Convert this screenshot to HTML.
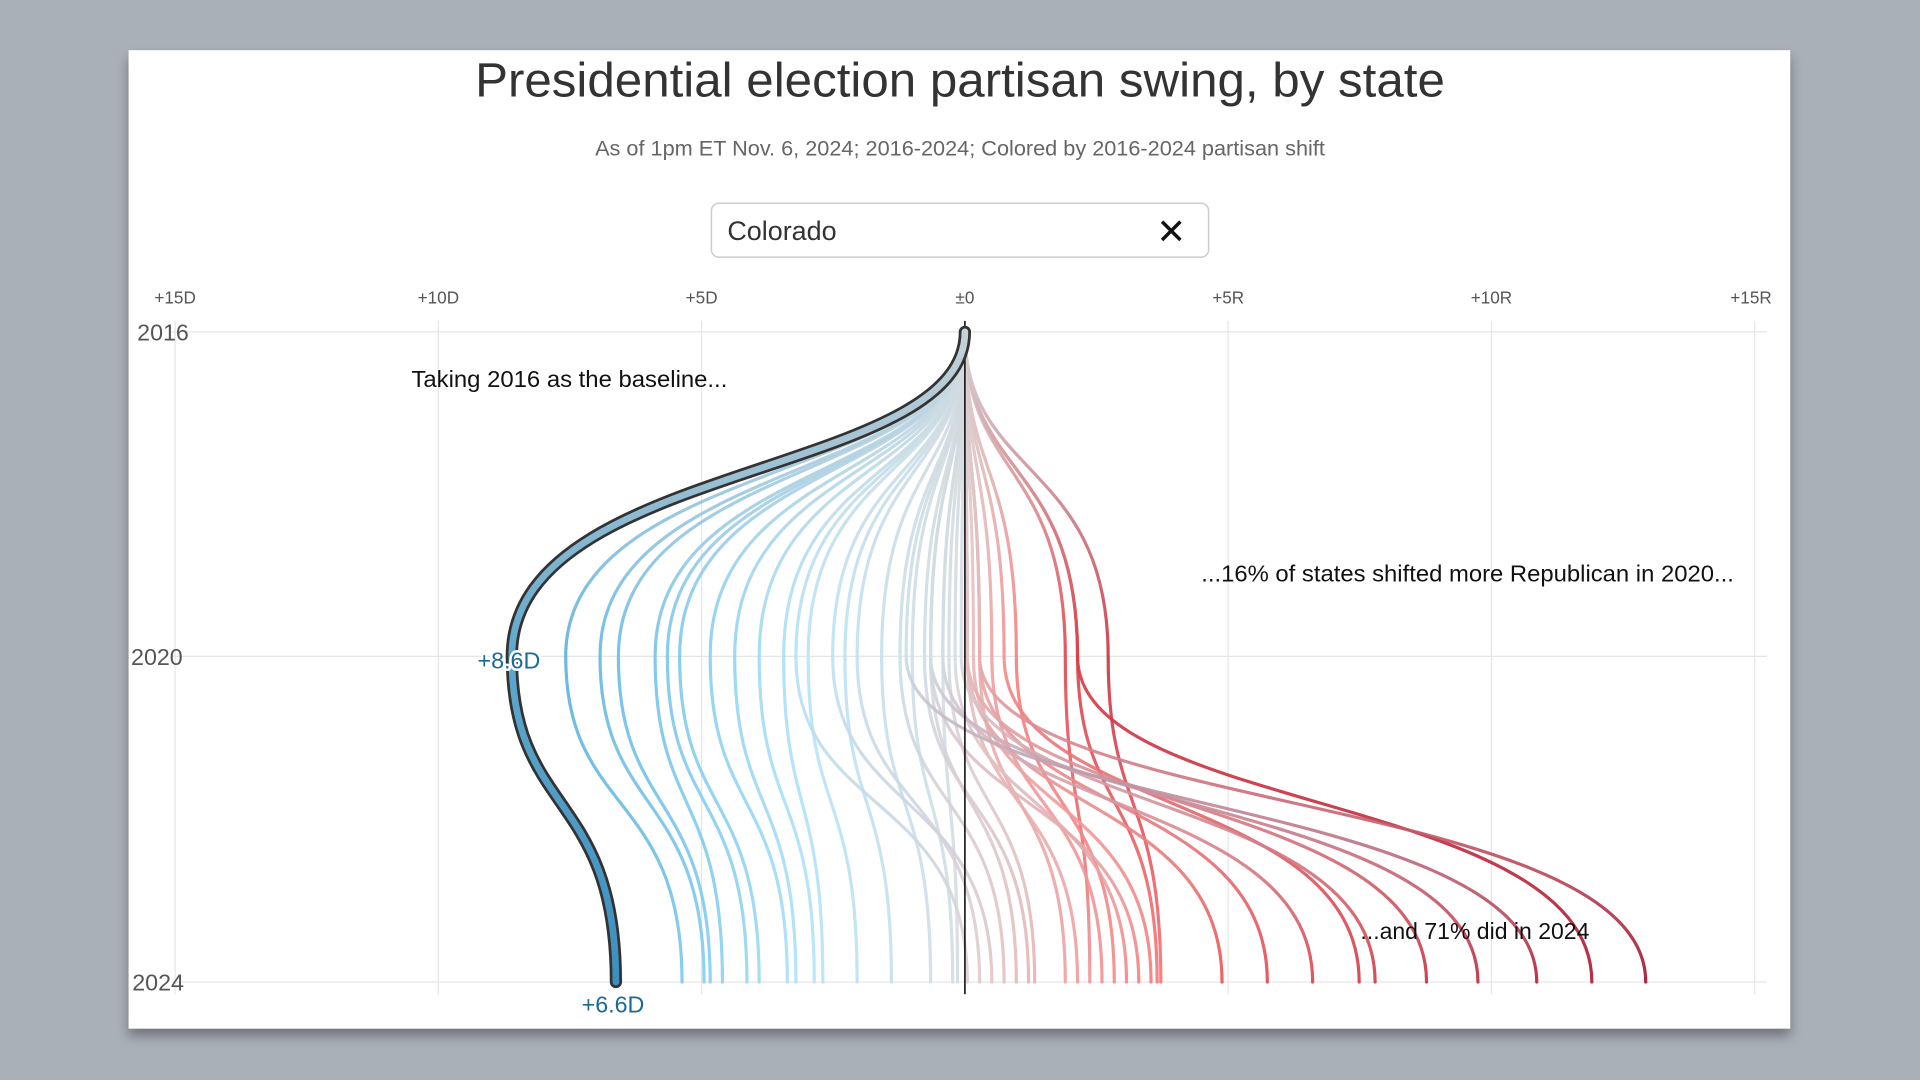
<!DOCTYPE html>
<html><head><meta charset="utf-8">
<style>
html,body{margin:0;padding:0;background:#a9b0b8;}
svg{display:block}
text{font-family:"Liberation Sans",sans-serif}
</style></head>
<body>
<svg id="s" width="1920" height="1080" viewBox="0 0 1568 882" xmlns="http://www.w3.org/2000/svg">
<defs>
<filter id="sh" x="-5%" y="-5%" width="110%" height="115%"><feDropShadow dx="0" dy="6" stdDeviation="5" flood-color="#000" flood-opacity="0.35"/></filter>
</defs>
<rect x="0" y="0" width="1568" height="882" fill="#a9b0b8"/>
<rect x="105" y="41" width="1357" height="799" fill="#fff" filter="url(#sh)"/>
<text x="784" y="79" text-anchor="middle" font-size="39" fill="#333" textLength="792" lengthAdjust="spacingAndGlyphs">Presidential election partisan swing, by state</text>
<text x="784" y="127" text-anchor="middle" font-size="17" fill="#666" textLength="596" lengthAdjust="spacingAndGlyphs">As of 1pm ET Nov. 6, 2024; 2016-2024; Colored by 2016-2024 partisan shift</text>
<rect x="581" y="166" width="406" height="44" rx="6" fill="#fff" stroke="#ccc" stroke-width="1.2"/>
<text x="594" y="196" font-size="22" fill="#333">Colorado</text>
<path d="M949,181 L964,196 M964,181 L949,196" stroke="#111" stroke-width="2.8"/>
<g id="grid" stroke="#e6e6e6" stroke-width="1"></g>
<g font-size="14" fill="#555" text-anchor="middle">
<text x="143" y="248">+15D</text><text x="358" y="248">+10D</text><text x="573" y="248">+5D</text>
<text x="788" y="248">±0</text><text x="1003" y="248">+5R</text><text x="1218" y="248">+10R</text><text x="1430" y="248">+15R</text>
</g>
<g font-size="19" fill="#555">
<text x="112" y="278">2016</text><text x="107" y="543">2020</text><text x="108" y="809">2024</text>
</g>
<g id="lines" fill="none" stroke-width="2.6" stroke-linecap="round"></g>
<line x1="788" y1="262" x2="788" y2="812" stroke="#111" stroke-width="1.3"/>
<g id="hl" fill="none" stroke-linecap="round"></g>
<g font-size="18.5" fill="#111">
<text x="336" y="316" textLength="258" lengthAdjust="spacingAndGlyphs">Taking 2016 as the baseline...</text>
<text x="981" y="475" textLength="435" lengthAdjust="spacingAndGlyphs">...16% of states shifted more Republican in 2020...</text>
<text x="1111" y="767" textLength="187" lengthAdjust="spacingAndGlyphs">...and 71% did in 2024</text>
</g>
<g font-size="19" fill="#1a6a96" stroke="#fff" stroke-width="4" paint-order="stroke" stroke-linejoin="round">
<text x="390" y="546">+8.6D</text>
<text x="475" y="827">+6.6D</text>
</g>
</svg>
<script>
var NS="http://www.w3.org/2000/svg",s=document.getElementById('s');
var g=document.getElementById('grid'),defs=s.querySelector('defs');
function el(t,a,p){var e=document.createElementNS(NS,t);for(var k in a)e.setAttribute(k,a[k]);(p||s).appendChild(e);return e;}
[143,358,573,1003,1218,1433].forEach(function(x){el('line',{x1:x,y1:262,x2:x,y2:812},g);});
[271,536,802].forEach(function(y){el('line',{x1:140,y1:y,x2:1443,y2:y},g);});
function lerp(a,b,t){return a.map(function(v,i){return Math.round(v+(b[i]-v)*t);});}
function col(x){var d=(x-788)/43;
 if(d<0){d=-d;if(d<3)return lerp([214,220,224],[180,228,250],d/3);
   if(d<5)return lerp([180,228,250],[130,205,240],(d-3)/2);
   return lerp([130,205,240],[70,160,210],Math.min(1,(d-5)/4));}
 if(d<4)return lerp([226,208,208],[250,110,110],d/4);
 return lerp([245,85,85],[160,15,45],Math.min(1,(d-4)/9));}
function rgb(c){return 'rgb('+c.join(',')+')';}
var data=[[462,557],[490,575],[505,580],[535,590],[545,610],[555,620],[580,643],[600,650],[620,665],[640,672],[660,700],[690,728],[720,760],[745,778],[770,782],[650,790],[700,800],[680,810],[735,820],[760,830],[755,840],[775,845],[800,870],[790,880],[870,890],[810,900],[830,910],[780,920],[760,930],[795,940],[880,945],[905,948],[790,998],[800,1035],[770,1072],[820,1110],[785,1123],[790,1165],[760,1207],[740,1255],[880,1300],[800,1344]];
function path(a,b){var x0=788,y0=271,y1=536,y2=802;
 return 'M'+x0+','+y0+' C'+x0+','+(y0+120)+' '+a+','+(y0+105)+' '+a+','+y1+
 ' C'+a+','+(y1+130)+' '+b+','+(y1+110)+' '+b+','+y2;}
data.forEach(function(d,i){
 var gr=el('linearGradient',{id:'g'+i,gradientUnits:'userSpaceOnUse',x1:0,y1:271,x2:0,y2:802},defs);
 el('stop',{offset:0,'stop-color':'#d4d9dc'},gr);
 el('stop',{offset:0.5,'stop-color':rgb(col(d[0]<788?d[0]:(d[1]>788?788+(d[0]-788)*3+20:d[0])))},gr);
 el('stop',{offset:1,'stop-color':rgb(col(d[1]))},gr);
 el('path',{d:path(d[0],d[1]),stroke:'url(#g'+i+')','stroke-opacity':0.9},document.getElementById('lines'));
});
var h=document.getElementById('hl');
var gr=el('linearGradient',{id:'gc',gradientUnits:'userSpaceOnUse',x1:0,y1:271,x2:0,y2:802},defs);
el('stop',{offset:0,'stop-color':'#c8d2d8'},gr);el('stop',{offset:0.5,'stop-color':'#5fa8cc'},gr);el('stop',{offset:1,'stop-color':'#3c8fbf'},gr);
el('path',{d:path(418,503),stroke:'#333','stroke-width':10},h);
el('path',{d:path(418,503),stroke:'url(#gc)','stroke-width':5.5},h);
</script>
</body></html>
